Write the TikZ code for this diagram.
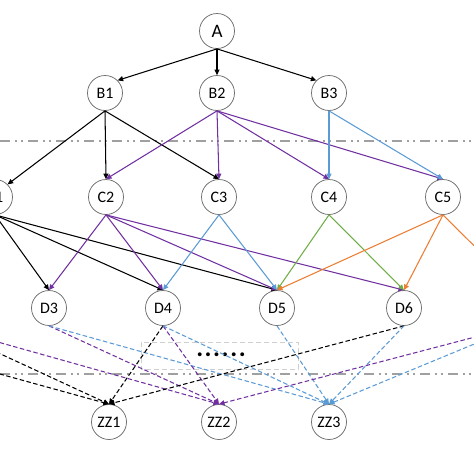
\documentclass[tikz,border=0pt]{standalone}
\usepackage{fontspec}
\setmainfont{Carlito}
\newfontfamily\dotsfont[LetterSpace=6]{Carlito}
\usetikzlibrary{arrows.meta}
\definecolor{cpurple}{HTML}{7030A0}
\definecolor{cblue}{HTML}{5B9BD5}
\definecolor{cgreen}{HTML}{70AD47}
\definecolor{corange}{HTML}{ED7D31}
\definecolor{cgray}{HTML}{707070}
\definecolor{sepgray}{HTML}{A0A0A0}
\definecolor{boxgray}{HTML}{CFCFCF}
\begin{document}
\begin{tikzpicture}[x=1pt,y=-1pt,
  vnode/.style={circle,draw=cgray,line width=0.75pt,minimum size=35pt,inner sep=0pt,fill=white,
                font=\fontsize{16}{18}\selectfont},
  edge/.style={line width=1.05pt,-{Triangle[length=5.5pt,width=5pt]}},
  dedge/.style={edge,dash pattern=on 4.5pt off 2.5pt},
  sepline/.style={draw=sepgray,line width=1.1pt,
                  dash pattern=on 10pt off 4.5pt on 2pt off 4.5pt on 2pt off 5pt},
  ]
\useasboundingbox (0,0) rectangle (474,474);
\fill[white] (0,0) rectangle (474,474);

% separators and box
\coordinate (s1l) at (0,141);  \coordinate (s1r) at (474,141);
\coordinate (s2l) at (0,374);  \coordinate (s2r) at (474,374);
\draw[sepline] (s1l) -- (s1r);
\draw[sepline] (s2l) -- (s2r);
\coordinate (bx1) at (141,342); \coordinate (bx2) at (298,369);
\draw[boxgray,line width=1pt,dash pattern=on 5pt off 3pt] (bx1) rectangle (bx2);

% nodes
\node[vnode,font=\fontsize{19}{21}\selectfont] (A) at (217,31) {A};
\node[vnode] (B1) at (105,93) {B1};
\node[vnode] (B2) at (217,93) {B2};
\node[vnode] (B3) at (329,93) {B3};
\node[vnode] (C1) at (-5,197) {C1};
\node[vnode] (C2) at (106,197) {C2};
\node[vnode] (C3) at (219,197) {C3};
\node[vnode] (C4) at (329,197) {C4};
\node[vnode] (C5) at (443,197) {C5};
\node[vnode] (D3) at (49,308) {D3};
\node[vnode] (D4) at (163,308) {D4};
\node[vnode] (D5) at (277,308) {D5};
\node[vnode] (D6) at (404,308) {D6};
\node[vnode] (ZZ1) at (109,422) {ZZ1};
\node[vnode] (ZZ2) at (219,422) {ZZ2};
\node[vnode] (ZZ3) at (329,422) {ZZ3};
\coordinate (D1s) at (-176,325.5);
\coordinate (D2s) at (-61,325.5);
\coordinate (D7s) at (519,325.5);
\coordinate (D7n) at (519,290.5);

\node[font=\dotsfont\fontsize{26}{26}\selectfont\bfseries,inner sep=0pt] (dots) at (221,355) {......};

% A -> B
\draw[edge] (A.south) -- (B1.north east);
\draw[edge] (A.south) -- (B2.north);
\draw[edge] (A.south) -- (B3.north west);
% B -> C
\draw[edge] (B1.south) -- (C1.north east);
\draw[edge] (B1.south) -- (C2.north);
\draw[edge] (B1.south) -- (C3.north);
\foreach \t in {C2,C3,C4,C5} \draw[edge,cpurple] (B2.south) -- (\t.north);
\foreach \t in {C4,C5} \draw[edge,cblue] (B3.south) -- (\t.north);
% C -> D
\foreach \t in {D3,D4,D5} \draw[edge] (C1.south) -- (\t.north);
\foreach \t in {D3,D4,D5,D6} \draw[edge,cpurple] (C2.south) -- (\t.north);
\foreach \t in {D4,D5} \draw[edge,cblue] (C3.south) -- (\t.north);
\foreach \t in {D5,D6} \draw[edge,cgreen] (C4.south) -- (\t.north);
\foreach \t in {D5,D6} \draw[edge,corange] (C5.south) -- (\t.north);
\draw[edge,corange] (C5.south) -- (D7n);
% D -> ZZ
\draw[dedge] (D1s) -- (ZZ1.north);
\draw[dedge] (D2s) -- (ZZ1.north);
\draw[dedge,cpurple] (D2s) -- (ZZ2.north);
\draw[dedge,cpurple] (D3.south) -- (ZZ2.north);
\draw[dedge,cblue] (D3.south) -- (ZZ3.north);
\draw[dedge] (D4.south) -- (ZZ1.north);
\draw[dedge,cpurple] (D4.south) -- (ZZ2.north);
\draw[dedge,cblue] (D4.south) -- (ZZ3.north);
\draw[dedge,cblue] (D5.south) -- (ZZ3.north);
\draw[dedge] (D6.south) -- (ZZ1.north);
\draw[dedge,cblue] (D6.south) -- (ZZ3.north);
\draw[dedge,cpurple] (D7s) -- (ZZ2.north);
\draw[dedge,cblue] (D7s) -- (ZZ3.north);
\end{tikzpicture}
\end{document}
